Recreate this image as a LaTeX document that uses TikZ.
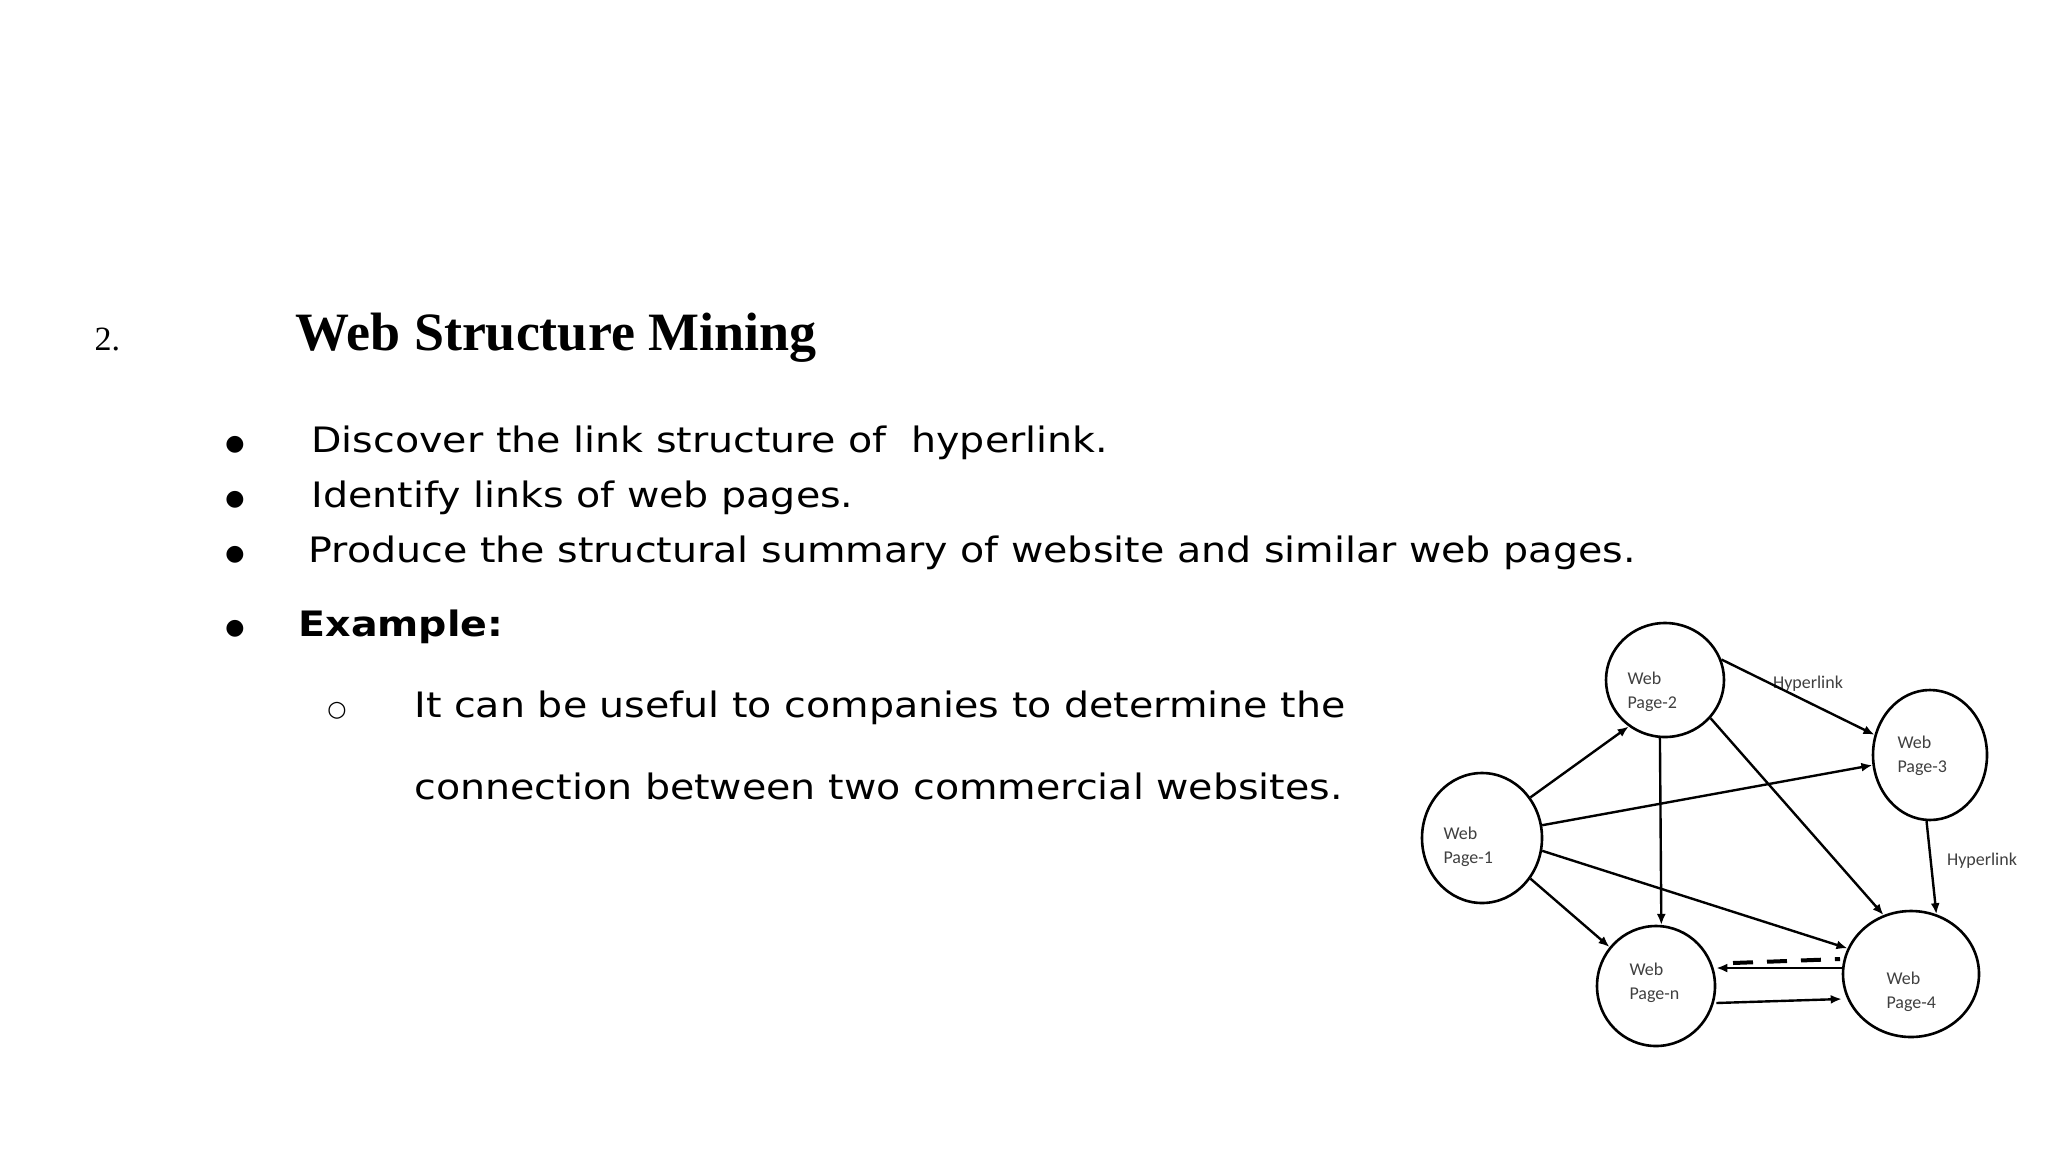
\documentclass[tikz,border=0pt]{standalone}
\usepackage{fontspec}
\setmainfont{DejaVu Sans}
\newfontfamily\bodyfont[FakeStretch=1.13]{DejaVu Sans}
\newfontfamily\titlefont{Liberation Serif}
\newfontfamily\smallfont{Carlito}
\usetikzlibrary{shapes.geometric,arrows.meta}
\begin{document}
\begin{tikzpicture}[x=1pt,y=-1pt,
  page/.style={draw,line width=2.6pt,ellipse,minimum width=#1,inner sep=0pt},
  lbl/.style={font=\smallfont\fontsize{18}{24}\selectfont,align=left,text=black!75},
  arr/.style={-{Latex[length=11pt,width=9pt]},line width=2.4pt},
  txt/.style={anchor=base west,font=\bodyfont\fontsize{35}{40}\selectfont},
  bul/.style={anchor=base,font=\fontsize{22}{26}\selectfont}]
\useasboundingbox[fill=white] (0,0) rectangle (2048,1152);
\node[anchor=base west,font=\titlefont\fontsize{34}{40}\selectfont] (num) at (91,350) {2.};
\node[anchor=base west,font=\titlefont\bfseries\fontsize{54}{60}\selectfont] (title) at (292,350) {Web Structure Mining};
\node[bul] (b1) at (235,450) {●};
\node[txt] (t1) at (308,452) {Discover the link structure of\ \ hyperlink.};
\node[bul] (b2) at (235,505) {●};
\node[txt] (t2) at (308,507) {Identify links of web pages.};
\node[bul] (b3) at (235,560) {●};
\node[txt] (t3) at (305,562) {Produce the structural summary of website and similar web pages.};
\node[bul] (b4) at (235,634) {●};
\node[txt] (t4) at (295,636) {\bfseries Example:};
\node[bul] (b5) at (337,716) {○};
\node[txt] (t5) at (411,717) {It can be useful to companies to determine the};
\node[txt] (t6) at (411,799) {connection between two commercial websites.};
% diagram
\node[page=120pt,minimum height=130pt] (P1) at (1482,838) {};
\node[page=118pt,minimum height=114pt] (P2) at (1665,680) {};
\node[page=114pt,minimum height=130pt] (P3) at (1930,755) {};
\node[page=118pt,minimum height=120pt] (Pn) at (1656,986) {};
\node[page=136pt,minimum height=126pt] (P4) at (1911,974) {};
\node[lbl,anchor=west] (L1) at (1440,847) {Web\\Page-1};
\node[lbl,anchor=west] (L2) at (1624,692) {Web\\Page-2};
\node[lbl,anchor=west] (L3) at (1894,756) {Web\\Page-3};
\node[lbl,anchor=west] (Ln) at (1626,983) {Web\\Page-n};
\node[lbl,anchor=west] (L4) at (1883,992) {Web\\Page-4};
\node[lbl] (h1) at (1808,684) {Hyperlink};
\node[lbl] (h2) at (1982,861) {Hyperlink};
\draw[arr] (P1.40) -- (P2.232);
\draw[arr] (P1.12) -- (P3.190);
\draw[arr] (P1.-12) -- (P4.158);
\draw[arr] (P1.-40) -- (Pn.140);
\draw[arr] (P2.20) -- (P3.160);
\draw[arr] (P2.-95) -- (Pn.85);
\draw[arr] (P2.-40) -- (P4.115);
\draw[arr] (P3.-93) -- (P4.67);
\draw[arr] ([yshift=6pt]P4.west) -- ([yshift=18pt]Pn.east);
\draw[arr] ([yshift=-17pt]Pn.east) -- ([yshift=-25pt]P4.west);
\coordinate (d1) at (1733,963);
\coordinate (d2) at (1840,959);
\draw[line width=4pt,dash pattern=on 20pt off 14pt] (d1) -- (d2);
\end{tikzpicture}
\end{document}
